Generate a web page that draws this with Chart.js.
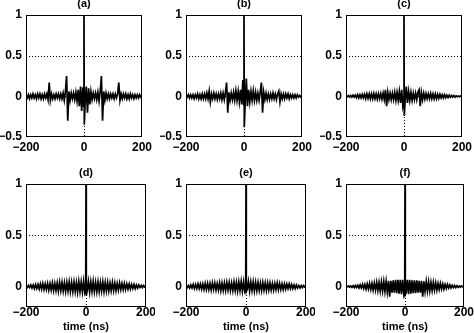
<!DOCTYPE html>
<html>
<head>
<meta charset="utf-8">
<script src="https://cdn.jsdelivr.net/npm/chart.js@4.4.1/dist/chart.umd.min.js"></script>
<style>
  body { margin: 0; background: #fff; }
  #wrap { position: relative; width: 474px; height: 333px; overflow: hidden; }
  canvas { position: absolute; }
</style>
</head>
<body>
<div id="wrap">
  <canvas id="pa" width="155" height="160" style="left:0;top:0"></canvas>
  <canvas id="pb" width="155" height="160" style="left:160px;top:0"></canvas>
  <canvas id="pc" width="155" height="160" style="left:320px;top:0"></canvas>
  <canvas id="pd" width="155" height="173" style="left:0;top:160px"></canvas>
  <canvas id="pe" width="155" height="173" style="left:160px;top:160px"></canvas>
  <canvas id="pf" width="155" height="173" style="left:320px;top:160px"></canvas>
</div>
<script>
// time axis (ns), every 4 ns plus two extra samples next to the peak
const times = [-200,-196,-192,-188,-184,-180,-176,-172,-168,-164,-160,-156,-152,-148,-144,-140,-136,-132,-128,-124,
  -120,-116,-112,-108,-104,-100,-96,-92,-88,-84,-80,-76,-72,-68,-64,-60,-56,-52,-48,-44,
  -40,-36,-32,-28,-24,-20,-16,-12,-8,-4,-1,0,1,4,8,12,16,20,24,28,32,36,
  40,44,48,52,56,60,64,68,72,76,80,84,88,92,96,100,104,108,112,116,
  120,124,128,132,136,140,144,148,152,156,160,164,168,172,176,180,184,188,192,196,200];

const xTicks = [-200, 0, 200];
const yTicksTop = [-0.5, 0, 0.5, 1];
const yTicksBottom = [0, 0.5, 1];

// values
const valsA = [0.01,-0.02,0.02,-0.03,0.02,-0.02,0.03,-0.02,0.02,-0.03,
  0.03,-0.02,0.03,-0.03,0.02,-0.03,0.03,-0.02,0.03,-0.04,
  0.17,-0.05,0.03,-0.03,0.02,-0.03,0.03,-0.02,0.03,-0.03,
  0.03,-0.03,0.04,-0.05,0.06,0.25,-0.3,0.06,-0.05,0.04,
  -0.03,0.04,-0.04,0.05,-0.06,0.08,-0.12,0.12,-0.18,0.11,
  -0.12,1,-0.35,-0.08,0.12,-0.2,0.1,-0.1,0.06,-0.04,0.04,-0.03,
  0.04,-0.04,0.05,-0.06,0.06,0.25,-0.3,0.06,-0.05,0.04,
  -0.03,0.03,-0.03,0.03,-0.02,0.03,-0.03,0.03,-0.02,0.03,
  0.17,-0.05,0.03,-0.03,0.03,-0.02,0.03,-0.03,0.02,-0.03,
  0.03,-0.02,0.02,-0.03,0.02,-0.02,0.02,-0.02,0.02,-0.01,0.01];

const valsB = [0.01,-0.01,0.02,-0.02,0.02,-0.02,0.02,-0.03,0.02,-0.02,
  0.03,-0.03,0.02,-0.03,0.03,-0.03,0.03,-0.03,0.04,-0.03,
  0.065,-0.07,0.03,-0.03,0.04,-0.03,0.03,-0.04,0.03,-0.03,
  0.04,-0.04,0.04,-0.04,0.05,0.17,-0.2,0.05,-0.05,0.04,
  -0.04,0.05,-0.05,0.07,-0.05,0.06,-0.07,0.08,-0.1,0.2,
  -0.1,1,-0.38,-0.1,0.22,-0.12,0.08,-0.07,0.06,-0.05,0.07,-0.05,
  0.05,-0.05,0.04,-0.05,0.05,0.17,-0.2,0.05,-0.04,0.04,
  -0.04,0.03,-0.04,0.03,-0.03,0.04,-0.03,0.03,-0.04,0.03,
  0.065,-0.07,0.03,-0.03,0.03,-0.03,0.03,-0.02,0.03,-0.03,
  0.02,-0.02,0.02,-0.02,0.02,-0.02,0.02,-0.01,0.01,-0.01,0.01];

const valsC = [0.005,-0.005,0.01,-0.01,0.01,-0.01,0.015,-0.01,0.015,-0.015,
  0.02,-0.02,0.02,-0.02,0.025,-0.02,0.025,-0.03,0.03,-0.025,
  0.03,-0.03,0.03,-0.03,0.035,-0.03,0.03,-0.035,0.03,-0.03,
  0.035,-0.035,0.04,-0.04,0.08,-0.12,0.05,-0.04,0.04,-0.04,
  0.04,-0.04,0.05,-0.05,0.05,-0.05,0.06,-0.08,0.08,-0.12,
  -0.06,1,-0.24,-0.05,0.12,-0.08,0.06,-0.05,0.05,-0.05,0.04,-0.04,
  0.04,-0.04,0.05,0.08,-0.12,0.05,-0.04,0.04,-0.035,0.035,
  -0.03,0.03,-0.03,0.035,-0.03,0.03,-0.03,0.03,-0.03,0.025,
  -0.025,0.025,-0.02,0.02,-0.02,0.02,-0.015,0.015,-0.015,0.015,
  -0.01,0.01,-0.01,0.01,-0.01,0.005,-0.005,0.005,-0.005,0.005,0];

const valsD = [0.005,-0.01,0.01,-0.01,0.015,-0.015,0.015,-0.02,0.02,-0.02,
  0.02,-0.025,0.025,-0.025,0.03,-0.03,0.025,-0.03,0.03,-0.035,
  0.03,-0.035,0.035,-0.04,0.03,-0.04,0.035,-0.045,0.04,-0.04,
  0.04,-0.045,0.035,-0.05,0.04,-0.045,0.045,-0.05,0.04,-0.05,
  0.045,-0.05,0.04,-0.055,0.05,-0.05,0.045,-0.055,0.05,-0.06,
  -0.03,1,-0.09,-0.04,0.05,-0.055,0.045,-0.05,0.05,-0.05,0.04,-0.05,
  0.045,-0.05,0.04,-0.045,0.045,-0.05,0.04,-0.045,0.04,-0.045,
  0.035,-0.04,0.04,-0.04,0.035,-0.04,0.03,-0.035,0.035,-0.03,
  0.03,-0.03,0.03,-0.03,0.025,-0.025,0.025,-0.025,0.02,-0.02,
  0.02,-0.02,0.015,-0.015,0.015,-0.01,0.01,-0.01,0.01,-0.005,0.005];

const valsE = [0.01,-0.01,0.01,-0.015,0.015,-0.015,0.02,-0.02,0.02,-0.02,
  0.025,-0.02,0.025,-0.025,0.025,-0.03,0.03,-0.03,0.03,-0.03,
  0.03,-0.035,0.035,-0.03,0.035,-0.035,0.03,-0.035,0.035,-0.04,
  0.035,-0.04,0.035,-0.04,0.04,-0.035,0.04,-0.04,0.035,-0.04,
  0.045,-0.04,0.04,-0.045,0.045,-0.04,0.05,-0.045,0.045,-0.05,
  -0.03,1,-0.05,-0.03,0.05,-0.045,0.045,-0.04,0.045,-0.045,0.04,-0.04,
  0.04,-0.04,0.035,-0.04,0.04,-0.035,0.035,-0.04,0.035,-0.035,
  0.035,-0.035,0.03,-0.035,0.03,-0.03,0.035,-0.03,0.03,-0.03,
  0.025,-0.03,0.025,-0.025,0.025,-0.02,0.025,-0.02,0.02,-0.02,
  0.015,-0.02,0.015,-0.015,0.01,-0.015,0.01,-0.01,0.01,-0.005,0.005];

const valsF = [0.003,-0.003,0.005,-0.005,0.005,-0.008,0.008,-0.01,0.01,-0.01,
  0.012,-0.015,0.015,-0.015,0.02,-0.02,0.02,-0.025,0.025,-0.025,
  0.03,-0.03,0.03,-0.035,0.035,-0.035,0.04,-0.04,0.04,-0.045,
  0.045,-0.045,0.05,-0.05,0.05,-0.055,0.055,-0.1,0.055,-0.06,
  0.06,-0.06,0.065,-0.065,0.065,-0.07,0.065,-0.075,0.065,-0.08,
  -0.05,1,-0.08,-0.06,0.065,-0.075,0.065,-0.07,0.06,-0.065,0.06,-0.065,
  0.06,-0.06,0.055,-0.06,0.055,-0.1,0.05,-0.05,0.05,-0.045,
  0.045,-0.045,0.04,-0.04,0.04,-0.035,0.035,-0.035,0.03,-0.03,
  0.03,-0.025,0.025,-0.025,0.02,-0.02,0.02,-0.015,0.015,-0.015,
  0.012,-0.01,0.01,-0.01,0.008,-0.008,0.005,-0.005,0.005,-0.003,0.003];

const FONT = "'Liberation Sans', Arial, sans-serif";

function fmt(v) {
  return v < 0 ? '\u2212' + String(-v) : String(v);
}

// box round the plot, dotted reference lines, panel title and x label
const boxPlugin = {
  id: 'box',
  beforeDatasetsDraw(chart) {
    const { ctx, chartArea: a, scales } = chart;
    ctx.save();
    ctx.strokeStyle = '#000';
    ctx.lineWidth = 1;
    ctx.setLineDash([1, 2]);
    ctx.beginPath();
    [0.5, 0].forEach((v) => {
      let py = Math.round(scales.y.getPixelForValue(v)) + 0.5;
      ctx.moveTo(a.left, py);
      ctx.lineTo(a.right, py);
    });
    let px = Math.round(scales.x.getPixelForValue(0)) + 0.5;
    ctx.moveTo(px, a.top);
    ctx.lineTo(px, a.bottom);
    ctx.stroke();
    ctx.restore();
  },
  afterDraw(chart, args, opts) {
    const { ctx, chartArea: a } = chart;
    ctx.save();
    ctx.strokeStyle = '#000';
    ctx.lineWidth = 1;
    ctx.strokeRect(a.left + 0.5, a.top + 0.5, a.right - a.left - 1, a.bottom - a.top - 1);
    ctx.fillStyle = '#000';
    ctx.font = 'bold 11px ' + FONT;
    ctx.textAlign = 'center';
    ctx.textBaseline = 'middle';
    let cx = (a.left + a.right) / 2;
    ctx.fillText(opts.title, cx, opts.titleY);
    if (opts.xlabel) {
      ctx.fillText(opts.xlabel, cx, opts.xlabelY);
    }
    ctx.restore();
  },
};

function createPanel(id, title, values, bottomRow, padRight) {
  let data = times.map((t, i) => ({ x: t, y: values[i] }));
  let yTicks = bottomRow ? yTicksBottom : yTicksTop;
  new Chart(document.getElementById(id), {
    type: 'line',
    plugins: [boxPlugin],
    data: {
      datasets: [
        {
          data: data,
          borderColor: '#000',
          borderWidth: 1.7,
          pointRadius: 0,
          tension: 0,
        },
      ],
    },
    options: {
      responsive: false,
      animation: false,
      layout: { padding: { top: bottomRow ? 24 : 15, right: padRight, left: 0, bottom: 0 } },
      plugins: {
        legend: { display: false },
        tooltip: { enabled: false },
        box: {
          title: title,
          titleY: bottomRow ? 13 : 4,
          xlabel: bottomRow ? 'time (ns)' : null,
          xlabelY: 167,
        },
      },
      scales: {
        x: {
          type: 'linear',
          min: -200,
          max: 200,
          grid: { display: false, drawTicks: false },
          border: { display: false },
          afterBuildTicks: (s) => { s.ticks = xTicks.map((v) => ({ value: v })); },
          afterFit: (s) => { s.height = bottomRow ? 26 : 23; },
          ticks: {
            color: '#000',
            maxRotation: 0,
            padding: bottomRow ? -2 : 3,
            font: { family: FONT, size: 12, weight: 'bold' },
            callback: (v) => fmt(v),
          },
        },
        y: {
          min: bottomRow ? -0.2 : -0.5,
          max: 1,
          grid: { display: false, drawTicks: false },
          border: { display: false },
          afterBuildTicks: (s) => { s.ticks = yTicks.map((v) => ({ value: v })); },
          afterFit: (s) => { s.width = 26; },
          ticks: {
            color: '#000',
            padding: 4,
            font: { family: FONT, size: 12, weight: 'bold' },
            callback: (v) => fmt(v),
          },
        },
      },
    },
  });
}

createPanel('pa', '(a)', valsA, false, 9);
createPanel('pb', '(b)', valsB, false, 9);
createPanel('pc', '(c)', valsC, false, 11);
createPanel('pd', '(d)', valsD, true, 9);
createPanel('pe', '(e)', valsE, true, 9);
createPanel('pf', '(f)', valsF, true, 11);
</script>
</body>
</html>
